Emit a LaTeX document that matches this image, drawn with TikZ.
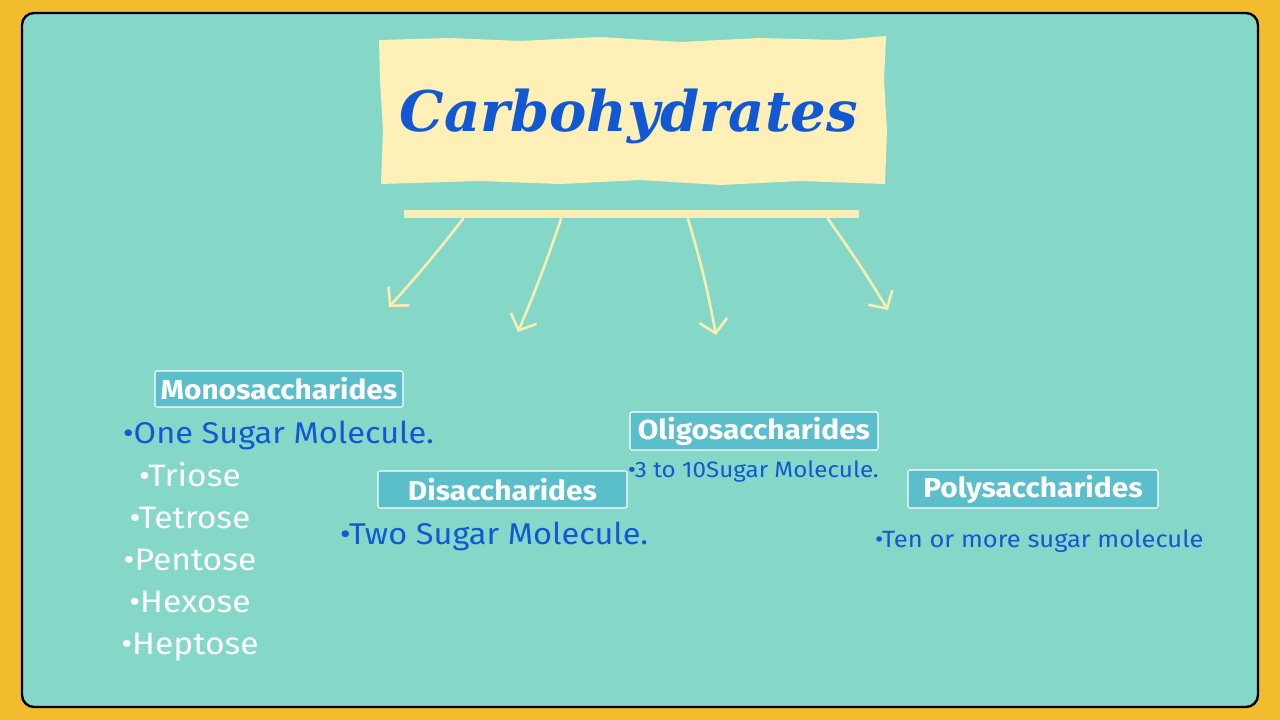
\documentclass[tikz,border=0pt]{standalone}
\usepackage{fontspec}
\setmainfont{Fira Sans}[FakeStretch=1.085]
\newfontfamily\titlefont{DejaVu Serif}
\usetikzlibrary{positioning}
\usetikzlibrary{arrows.meta}
\definecolor{frame}{HTML}{F2BC2E}
\definecolor{panel}{HTML}{85D8C8}
\definecolor{paper}{HTML}{FEF0B6}
\definecolor{chalk}{HTML}{F8EDB2}
\definecolor{boxfill}{HTML}{5BBFCB}
\definecolor{ink}{HTML}{1257D4}

\begin{document}
\begin{tikzpicture}[x=1pt,y=-1pt]

	\tikzstyle{head}=[rectangle,rounded corners=2pt,draw=white,line width=1.2pt,fill=boxfill,text=white,
	font=\bfseries\fontsize{27.5}{32}\selectfont,inner sep=0pt]
	\tikzstyle{blue item}=[text=ink,inner sep=0pt,anchor=base west]
	\tikzstyle{white item}=[text=white,inner sep=0pt,anchor=base,font=\fontsize{31}{35}\selectfont]
	\tikzstyle{chalk arrow}=[draw=chalk,line width=2.6pt,line cap=round,
	-{Straight Barb[length=13pt,width=28pt]}]

	\useasboundingbox (0,0) rectangle (1280,720);
	\fill[frame] (0,0) rectangle (1280,720);
	\draw[black,line width=2.4pt,fill=panel,rounded corners=12pt] (22,13) rectangle (1258,707);

	% Title:
	\fill[paper] (379,40) -- (450,38) -- (520,41) -- (600,37) -- (680,42) -- (760,38)
	-- (840,40) -- (886,36) -- (884,80) -- (887,130) -- (885,184) -- (800,181)
	-- (720,185) -- (640,180) -- (560,184) -- (480,181) -- (381,184) -- (383,130)
	-- (380,80) -- cycle;
	\node [anchor=base,text=ink,inner sep=0pt,font=\titlefont\bfseries\itshape\fontsize{56}{62}\selectfont] at (629,131) (title) {Carbohydrates};
	\node [fill=chalk,inner sep=0pt,minimum width=455,minimum height=8] at (631.5,214) (bar) {};

	% Arrows:
	\coordinate (a1) at (463,219); \coordinate (t1) at (389,307);
	\coordinate (a2) at (561,219); \coordinate (t2) at (518,332);
	\coordinate (a3) at (688,219); \coordinate (t3) at (716,335);
	\coordinate (a4) at (828,219); \coordinate (t4) at (888,310);
	\draw[chalk arrow] (a1) to[bend left=2] (t1);
	\draw[chalk arrow] (a2) to[bend left=2] (t2);
	\draw[chalk arrow] (a3) to[bend left=3] (t3);
	\draw[chalk arrow] (a4) to[bend left=2] (t4);

	% Groups:
	\node [head,minimum width=248,minimum height=36] at (279,389) (mono) {Monosaccharides};
	\node [head,minimum width=249,minimum height=37] at (502.5,489.5) (di) {Disaccharides};
	\node [head,minimum width=248,minimum height=38] at (754,431) (oligo) {Oligosaccharides};
	\node [head,minimum width=250,minimum height=38] at (1033,489) (poly) {Polysaccharides};

	\node [blue item,font=\fontsize{30}{34}\selectfont] at (123,443) (one) {•One Sugar Molecule.};
	\foreach \name [count=\i] in {Triose,Tetrose,Pentose,Hexose,Heptose}
		\node [white item] at (190,{486+42*(\i-1)}) (sub\i) {•\name};
	\node [blue item,font=\fontsize{30}{34}\selectfont] at (340,544) (two) {•Two Sugar Molecule.};
	\node [blue item,font=\fontsize{22.3}{26}\selectfont] at (628,477) (few) {•3 to 10Sugar Molecule.};
	\node [blue item,font=\fontsize{23.5}{27}\selectfont] at (875,547) (many) {•Ten or more sugar molecule};

\end{tikzpicture}
\end{document}
